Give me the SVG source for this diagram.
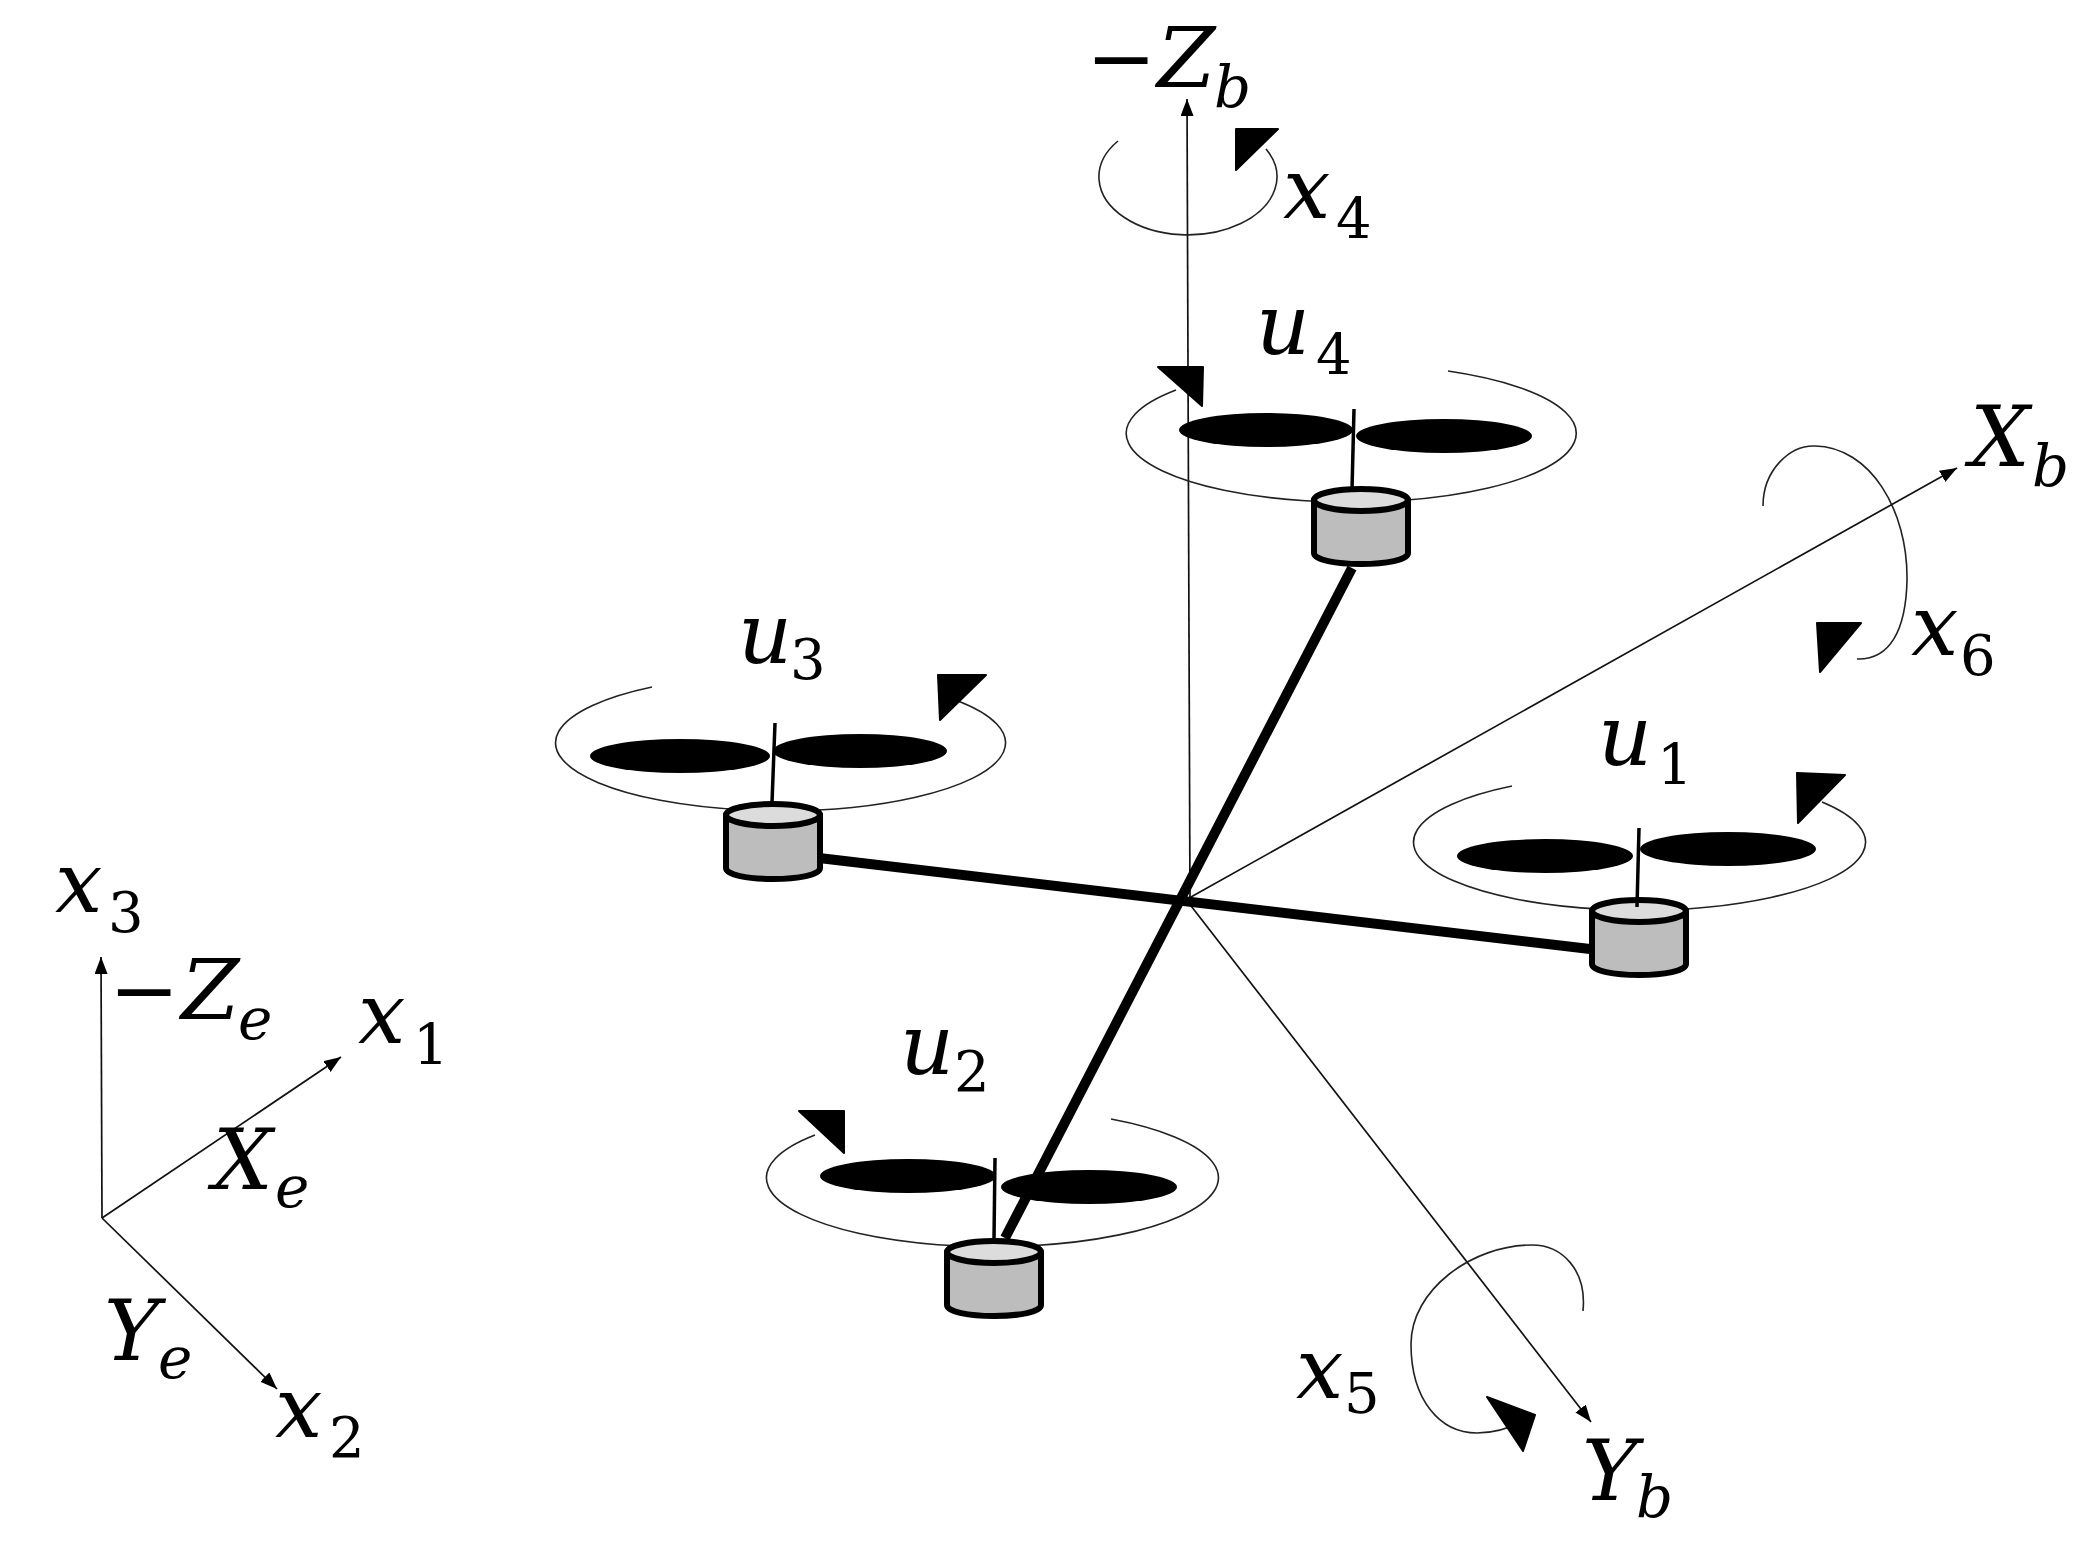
<svg xmlns="http://www.w3.org/2000/svg" xmlns:xlink="http://www.w3.org/1999/xlink" width="2088" height="1557" viewBox="0 0 2088 1557">
<style>
.ax{fill:none;stroke:#111;stroke-width:1.7}
.ring{fill:none;stroke:#222;stroke-width:1.6}
.arm{stroke:#000;stroke-width:10;fill:none}
.shaft{stroke:#000;stroke-width:3.5;fill:none}
.blade{fill:#000}
.tri{fill:#000;stroke:#000;stroke-width:2;stroke-linejoin:round}
text{font-family:"DejaVu Serif","Liberation Serif",serif;fill:#000}
.m{font-size:84px;font-style:italic}
.mu{font-size:84px}
.s{font-size:58px;font-style:italic}
.d{font-size:56px}
</style>
<defs>
<marker id="ah" markerUnits="userSpaceOnUse" markerWidth="18" markerHeight="14" refX="17" refY="6.5" orient="auto"><path d="M0,0 L17,6.5 L0,13 Z" fill="#000"/></marker>
<g id="motor">
<path d="M-47,11 V64 C-47,71 -25,75 0,75 C25,75 47,71 47,64 V11 Z" fill="#bdbdbd" stroke="#000" stroke-width="6" stroke-linejoin="round"/>
<ellipse cx="0" cy="11" rx="47" ry="11" fill="#dcdcdc" stroke="#000" stroke-width="6"/>
</g>
</defs>
<rect width="2088" height="1557" fill="#fff"/>
<g id="connectors">
<path class="ax" d="M1190,902 L1187,99" marker-end="url(#ah)"/>
<path class="ax" d="M1182,902 L1957,468" marker-end="url(#ah)"/>
<path class="ax" d="M1188,902 L1591,1422" marker-end="url(#ah)"/>
<path class="ax" d="M102,1218 L101,957" marker-end="url(#ah)"/>
<path class="ax" d="M102,1218 L341,1057" marker-end="url(#ah)"/>
<path class="ax" d="M102,1218 L277,1389" marker-end="url(#ah)"/>
<path class="arm" d="M1352,568 L1005,1238"/>
<path class="arm" d="M819,858 L1590,949"/>
</g>
<g id="rotor4">
<path class="ring" d="M1448,371 A225,69 0 1 1 1176,390"/>
<path class="tri" d="M1158,367 L1203,367 L1202,406 Z"/>
<ellipse class="blade" cx="1266" cy="430" rx="87" ry="17"/>
<ellipse class="blade" cx="1444" cy="436" rx="88" ry="17"/>
<path class="shaft" d="M1354,409 L1352,490"/>
<use xlink:href="#motor" href="#motor" x="1361" y="489"/>
</g>
<g id="rotor3">
<path class="ring" d="M652,687 A225,68 0 1 0 958,701"/>
<path class="tri" d="M938,675 L986,675 L940,720 Z"/>
<ellipse class="blade" cx="680" cy="756" rx="90" ry="17"/>
<ellipse class="blade" cx="860" cy="751" rx="87" ry="17"/>
<path class="shaft" d="M775,723 L772,803"/>
<use xlink:href="#motor" href="#motor" x="773" y="804"/>
</g>
<g id="rotor1">
<path class="ring" d="M1512,786 A226,68 0 1 0 1822,802"/>
<path class="tri" d="M1797,773 L1845,775 L1798,823 Z"/>
<ellipse class="blade" cx="1545" cy="856" rx="88" ry="17"/>
<ellipse class="blade" cx="1728" cy="849" rx="88" ry="17"/>
<use xlink:href="#motor" href="#motor" x="1639" y="900"/>
<path class="shaft" d="M1639,828 L1637,907"/>
</g>
<g id="rotor2">
<path class="ring" d="M1111,1119 A226,69 0 1 1 815,1135"/>
<path class="tri" d="M799,1111 L844,1111 L844,1153 Z"/>
<ellipse class="blade" cx="908" cy="1176" rx="88" ry="17"/>
<ellipse class="blade" cx="1089" cy="1187" rx="88" ry="17"/>
<path class="shaft" d="M995,1158 L994,1239"/>
<use xlink:href="#motor" href="#motor" x="994" y="1241"/>
</g>
<g id="roll-x4">
<path class="ring" d="M1118,141 A89,58 0 1 0 1266,149"/>
<path class="tri" d="M1236,129 L1278,129 L1236,170 Z"/>
</g>
<g id="roll-x6">
<path class="ring" d="M1763,506 C1763,470 1790,445 1815,446 C1870,447 1908,510 1907,580 C1906,630 1890,660 1857,659"/>
<path class="tri" d="M1817,623 L1861,623 L1820,672 Z"/>
</g>
<g id="roll-x5">
<path class="ring" d="M1583,1311 C1587,1270 1562,1245 1532,1245 C1472,1245 1411,1290 1411,1344 C1411,1400 1440,1433 1477,1433 C1495,1433 1510,1428 1524,1421"/>
<path class="tri" d="M1487,1397 L1535,1415 L1523,1451 Z"/>
</g>
<g id="labels">
<text class="mu" x="1086" y="87">−</text><text class="m" x="1157" y="87">Z</text><text class="s" x="1214" y="107">b</text>
<text class="m" x="1283" y="218">x</text><text class="d" x="1336" y="238">4</text>
<text class="m" x="1256" y="354">u</text><text class="d" x="1316" y="374">4</text>
<text class="m" x="1598" y="765">u</text><text class="d" x="1657" y="784">1</text>
<text class="m" x="738" y="663">u</text><text class="d" x="790" y="679">3</text>
<text class="m" x="900" y="1074">u</text><text class="d" x="954" y="1091">2</text>
<text class="m" x="1911" y="655">x</text><text class="d" x="1960" y="675">6</text>
<text class="m" x="1296" y="1398">x</text><text class="d" x="1344" y="1413">5</text>
<text class="m" x="1970" y="466">X</text><text class="s" x="2032" y="486">b</text>
<text class="m" x="1582" y="1500">Y</text><text class="s" x="1636" y="1517">b</text>
<text class="m" x="55" y="912">x</text><text class="d" x="108" y="932">3</text>
<text class="mu" x="109" y="1019">−</text><text class="m" x="181" y="1019">Z</text><text class="s" x="238" y="1039">e</text>
<text class="m" x="358" y="1043">x</text><text class="d" x="413" y="1064">1</text>
<text class="m" x="213" y="1189">X</text><text class="s" x="275" y="1207">e</text>
<text class="m" x="104" y="1360">Y</text><text class="s" x="158" y="1378">e</text>
<text class="m" x="275" y="1437">x</text><text class="d" x="329" y="1457">2</text>
</g>
</svg>
